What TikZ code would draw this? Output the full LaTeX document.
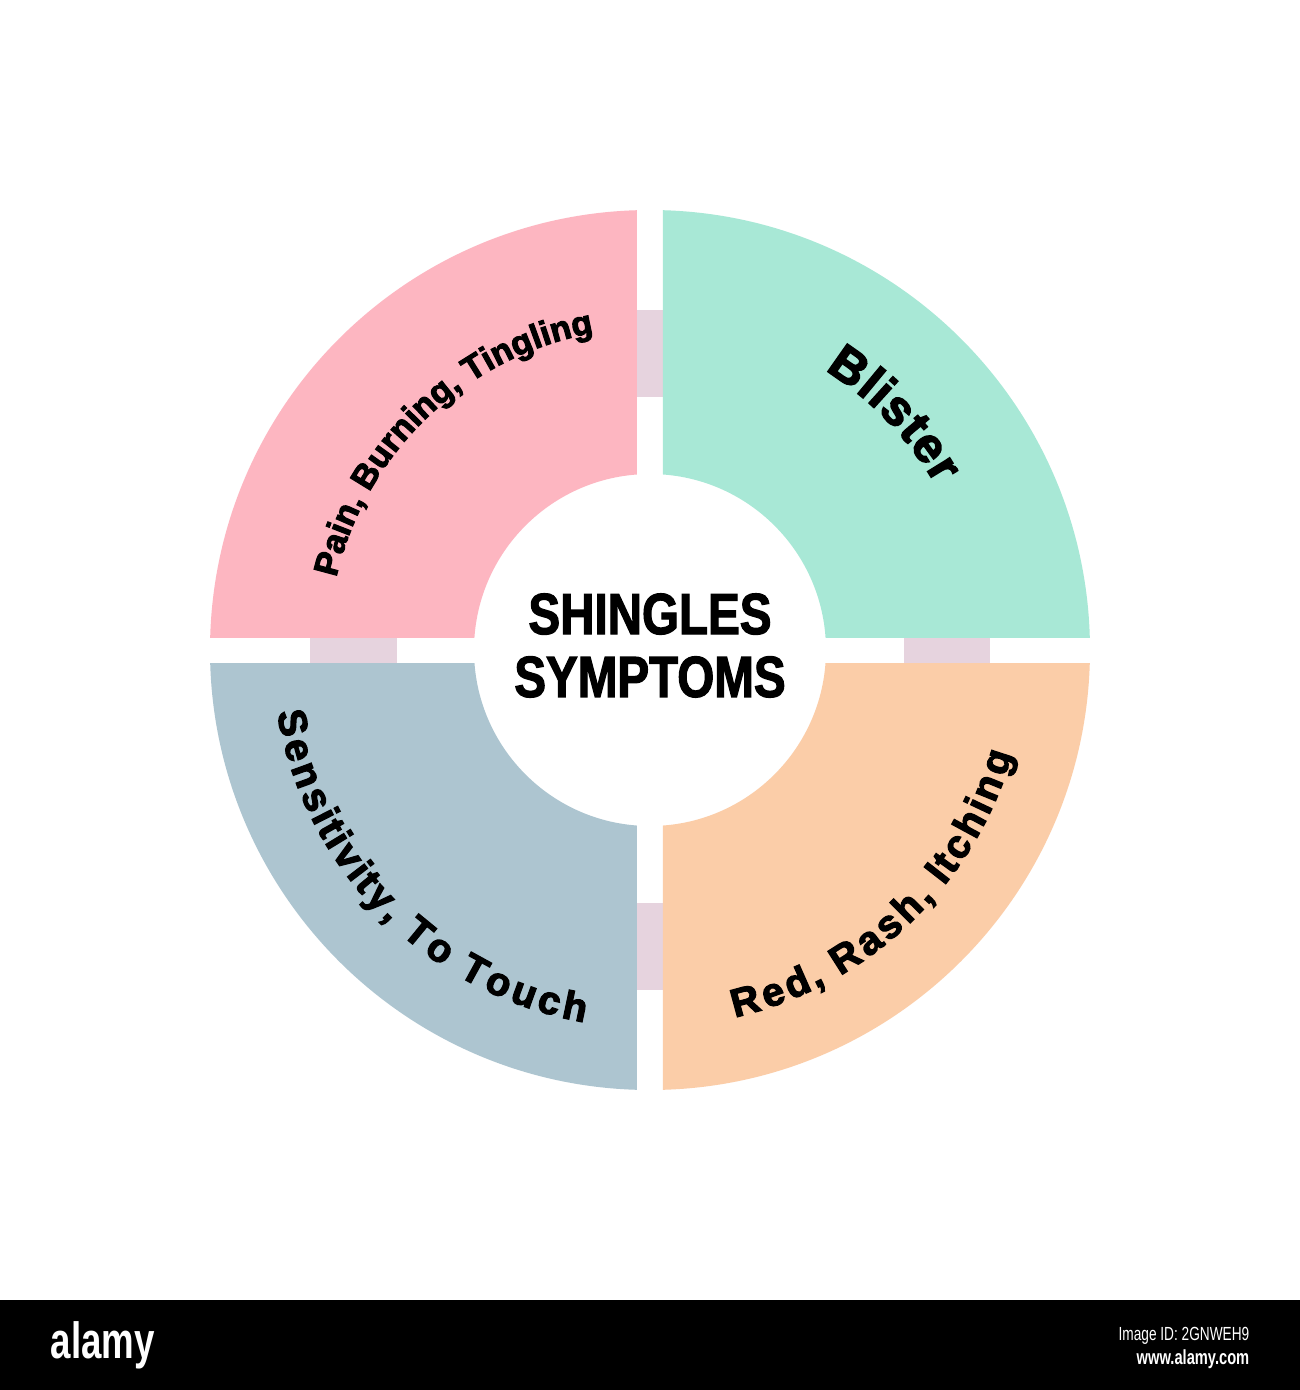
\documentclass[tikz,border=0pt]{standalone}
\usepackage{fontspec}
\setmainfont{Liberation Sans}
\newfontfamily\heavyfont[BoldFeatures={FakeBold=3}]{Liberation Sans}
\newfontfamily\condfont[BoldFeatures={FakeStretch=0.82,FakeBold=2}]{Liberation Sans}
\newfontfamily\barfont[FakeStretch=0.72]{Liberation Sans}
\usetikzlibrary{decorations.text}
\definecolor{qpink}{HTML}{FDB6C1}
\definecolor{qmint}{HTML}{A8E8D6}
\definecolor{qblue}{HTML}{ADC5D0}
\definecolor{qpeach}{HTML}{FBCDA8}
\definecolor{qconn}{HTML}{E6D3DE}
\tikzset{
  connbar/.style={fill=qconn},
  quadfill/.style={even odd rule},
}
\begin{document}
\begin{tikzpicture}
\useasboundingbox (-6.5,-7.4) rectangle (6.5,6.5);
\fill[white] (-6.5,-7.4) rectangle (6.5,6.5);
% connector bars in the gaps
\fill[connbar] (-0.13,2.53) rectangle (0.13,3.40);
\fill[connbar] (-3.40,-0.13) rectangle (-2.53,0.13);
\fill[connbar] (2.54,-0.13) rectangle (3.40,0.13);
\fill[connbar] (-0.13,-2.53) rectangle (0.13,-3.40);
% quadrants
\begin{scope}
\clip (-4.5,0.13) rectangle (-0.13,4.5);
\fill[qpink,quadfill] (0,0) circle[radius=4.4] (0,0) circle[radius=1.76];
\end{scope}
\begin{scope}
\clip (0.13,0.13) rectangle (4.5,4.5);
\fill[qmint,quadfill] (0,0) circle[radius=4.4] (0,0) circle[radius=1.76];
\end{scope}
\begin{scope}
\clip (-4.5,-0.13) rectangle (-0.13,-4.5);
\fill[qblue,quadfill] (0,0) circle[radius=4.4] (0,0) circle[radius=1.76];
\end{scope}
\begin{scope}
\clip (0.13,-0.13) rectangle (4.5,-4.5);
\fill[qpeach,quadfill] (0,0) circle[radius=4.4] (0,0) circle[radius=1.76];
\end{scope}
% centre title
\node[align=center, inner sep=0pt, font=\condfont\bfseries\fontsize{16.5}{17.9}\selectfont] (title) at (0,0.045) {SHINGLES\\SYMPTOMS};
% curved labels
\path[decorate, decoration={text effects along path,
   text={Pain, Burning, Tingling},
   text effects/.cd, text along path, fit text to path,
   characters={font=\heavyfont\bfseries\fontsize{9.7}{11}\selectfont}}]
   (167:3.22) arc[start angle=167, end angle=100, radius=3.22];
\path[decorate, decoration={text effects along path,
   text={Blister},
   text effects/.cd, text along path, fit text to path,
   characters={font=\heavyfont\bfseries\fontsize{14}{16}\selectfont}}]
   (58:3.30) arc[start angle=58, end angle=30, radius=3.30];
\path[decorate, decoration={text effects along path,
   text={Sensitivity, To Touch},
   text effects/.cd, text along path, fit text to path,
   characters={font=\heavyfont\bfseries\fontsize{11.3}{13}\selectfont}}]
   (189.5:3.78) arc[start angle=189.5, end angle=260, radius=3.78];
\path[decorate, decoration={text effects along path,
   text={Red, Rash, Itching},
   text effects/.cd, text along path, fit text to path,
   characters={font=\heavyfont\bfseries\fontsize{11.3}{13}\selectfont}}]
   (283:3.77) arc[start angle=283, end angle=344, radius=3.77];
% bottom band
\fill[black] (-6.5,-7.4) rectangle (6.5,-6.5);
\node[anchor=base west, inner sep=0pt, text=white, font=\barfont\bfseries\fontsize{14.5}{14}\selectfont] (logo) at (-6.0,-7.08) {alamy};
\node[anchor=base east, inner sep=0pt, text=white, font=\barfont\fontsize{5.4}{6}\selectfont] (imgid) at (6.0,-6.9) {Image ID: 2GNWEH9};
\node[anchor=base east, inner sep=0pt, text=white, font=\barfont\bfseries\fontsize{5.8}{6}\selectfont] (site) at (6.0,-7.14) {www.alamy.com};
\end{tikzpicture}
\end{document}
